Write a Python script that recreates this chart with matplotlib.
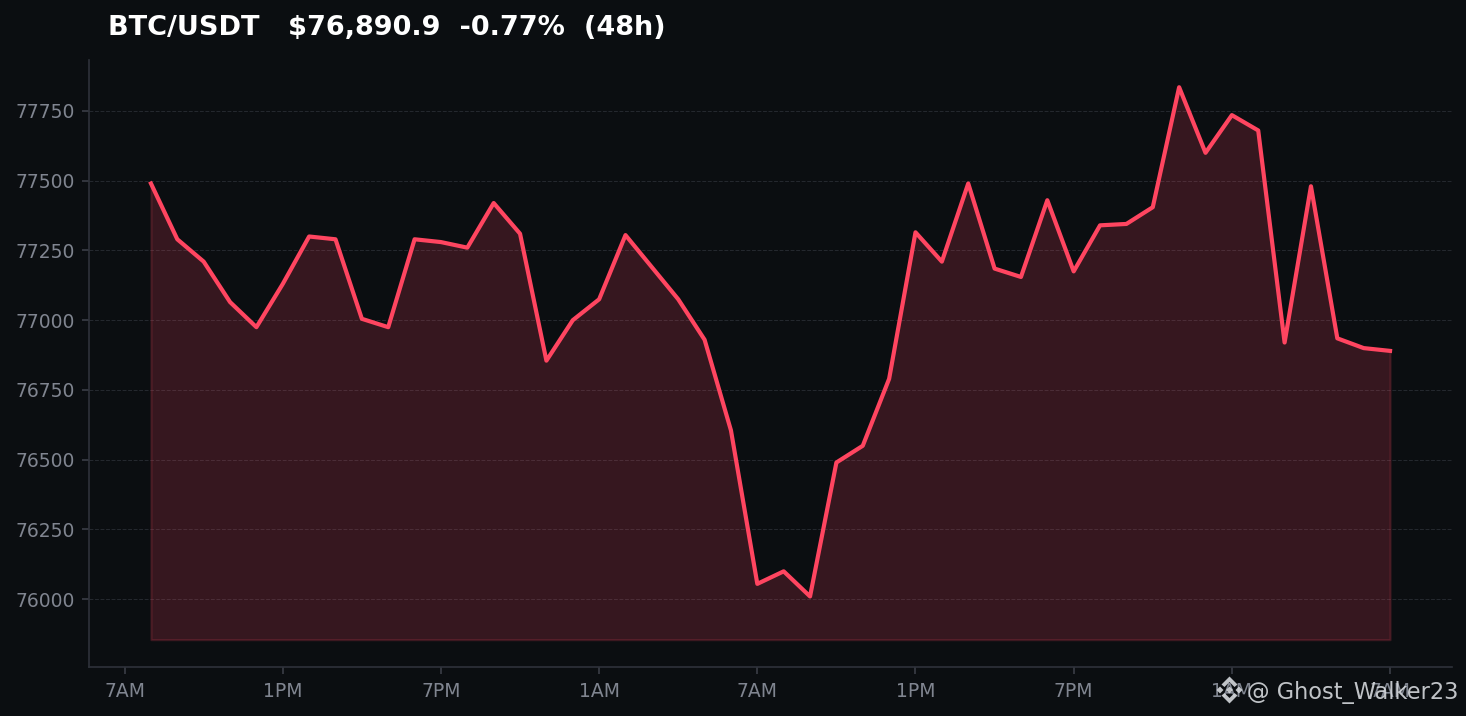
import matplotlib
matplotlib.use("Agg")
import matplotlib.pyplot as plt
import numpy as np
from matplotlib.patches import Polygon

W, H = 1466, 716
DPI = 150

bg_color = "#0b0e11"
line_color = "#ff4560"
tick_color = "#808590"
spine_color = "#2e323a"

# hours after the first 7AM tick
hours = np.arange(1, 49)
prices = [
    77490, 77290, 77210, 77065, 76975, 77130, 77300, 77290, 77005, 76975,
    77290, 77280, 77260, 77420, 77310, 76855, 77000, 77075, 77305, 77190,
    77075, 76930, 76605, 76055, 76100, 76010, 76490, 76550, 76790, 77315,
    77210, 77490, 77185, 77155, 77430, 77175, 77340, 77345, 77405, 77835,
    77600, 77735, 77680, 76920, 77480, 76935, 76900, 76890,
]
fill_floor = 75855
tick_hours = [0, 6, 12, 18, 24, 30, 36, 42, 48]
tick_labels = ["7AM", "1PM", "7PM", "1AM", "7AM", "1PM", "7PM", "1AM", "7AM"]
y_ticks = [76000, 76250, 76500, 76750, 77000, 77250, 77500, 77750]

fig = plt.figure(figsize=(W / DPI, H / DPI), dpi=DPI, facecolor=bg_color)
ax = fig.add_axes([89 / W, 1 - 667.3 / H, (1452 - 89) / W, (667.3 - 59.6) / H])
ax.set_facecolor(bg_color)

ax.fill_between(hours, prices, fill_floor, color=line_color, alpha=0.18, linewidth=1)
ax.plot(hours, prices, color=line_color, linewidth=2)

ax.set_xticks(tick_hours)
ax.set_xticklabels(tick_labels)
ax.set_yticks(y_ticks)
ax.tick_params(colors=tick_color, labelsize=9, length=3.5, width=0.8, color="#3a3e46")
ax.grid(axis="y", color="#2b2f36", linestyle="--", linewidth=0.5, alpha=0.8)
ax.set_axisbelow(True)

for side in ["top", "right"]:
    ax.spines[side].set_visible(False)
for side in ["left", "bottom"]:
    ax.spines[side].set_color(spine_color)

fig.text(108 / W, 1 - 34.7 / H, "BTC/USDT   $76,890.9  -0.77%  (48h)",
         color="white", fontsize=13, fontweight="bold", ha="left", va="baseline")

# watermark
mark_color = "#d5d8dc"
fig.text(1458 / W, 1 - 699 / H, "@ Ghost_Walker23", color=mark_color, alpha=0.9,
         fontsize=10.8, ha="right", va="baseline")

icon_x, icon_y = 1229.5, 690
icon_shapes = [
    [(-3.5, 0), (0, -3.5), (3.5, 0), (0, 3.5)],
    [(-13, 0), (-9.5, -3.5), (-6, 0), (-9.5, 3.5)],
    [(13, 0), (9.5, -3.5), (6, 0), (9.5, 3.5)],
    [(0, -13.5), (8, -5.5), (5, -3), (0, -8), (-5, -3), (-8, -5.5)],
    [(0, 13.5), (8, 5.5), (5, 3), (0, 8), (-5, 3), (-8, 5.5)],
]
for shape in icon_shapes:
    pts = [(icon_x + dx, H - (icon_y + dy)) for dx, dy in shape]
    fig.add_artist(Polygon(pts, closed=True, transform=None, facecolor=mark_color,
                           edgecolor="none", alpha=0.9))

fig.savefig("out.png", dpi=DPI, facecolor=bg_color)
